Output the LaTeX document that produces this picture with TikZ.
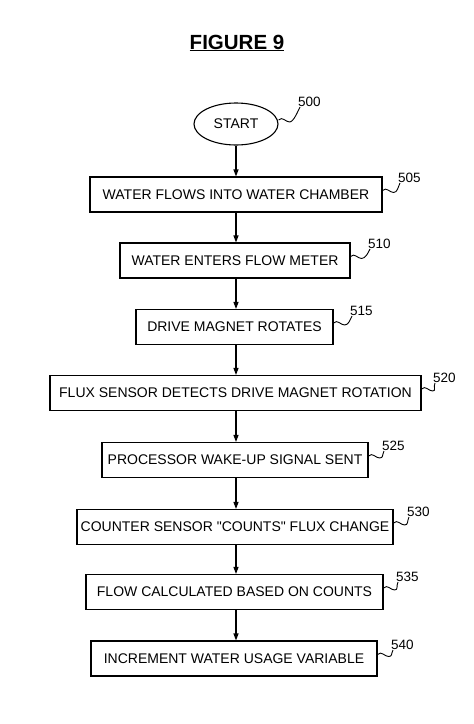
\documentclass[tikz,border=0pt]{standalone}
\usepackage{fontspec}
\setmainfont{Liberation Sans}[Ligatures=TeXOff]
\usetikzlibrary{shapes.geometric,arrows.meta}
\begin{document}
\begin{tikzpicture}[x=1pt,y=-1pt,
  stepbox/.style={draw,line width=1.1pt,minimum height=35pt,inner sep=0pt,font=\fontsize{14}{16}\selectfont},
  ref/.style={anchor=south west,inner sep=0pt,font=\fontsize{13.5}{15}\selectfont},
  flow/.style={-{Triangle[length=7pt,width=5pt]},line width=1.1pt},
  squig/.style={line width=0.9pt}]
\useasboundingbox (0,0) rectangle (474,724);
\node[font=\bfseries\fontsize{20.5}{22}\selectfont] (title) at (237,43) {\underline{FIGURE 9}};
\node[draw,ellipse,line width=1.1pt,minimum width=84pt,minimum height=42pt,inner sep=0pt,font=\fontsize{14}{16}\selectfont] (s) at (236,124) {START};
\node[stepbox,minimum width=292pt] (b505) at (236,194.5) {WATER FLOWS INTO WATER CHAMBER};
\node[stepbox,minimum width=230pt] (b510) at (235,260.5) {WATER ENTERS FLOW METER};
\node[stepbox,minimum width=197pt] (b515) at (234.5,327) {DRIVE MAGNET ROTATES};
\node[stepbox,minimum width=371pt] (b520) at (235.5,393) {FLUX SENSOR DETECTS DRIVE MAGNET ROTATION};
\node[stepbox,minimum width=266pt] (b525) at (235,460) {PROCESSOR WAKE-UP SIGNAL SENT};
\node[stepbox,minimum width=316pt] (b530) at (235,527) {COUNTER SENSOR "COUNTS" FLUX CHANGE};
\node[stepbox,minimum width=297pt] (b535) at (234.5,592) {FLOW CALCULATED BASED ON COUNTS};
\node[stepbox,minimum width=286pt] (b540) at (234,658.5) {INCREMENT WATER USAGE VARIABLE};
\node[ref] (l500) at (298,107) {500};
\node[ref] (l505) at (398,183) {505};
\node[ref] (l510) at (368,249) {510};
\node[ref] (l515) at (350,316) {515};
\node[ref] (l520) at (433,383) {520};
\node[ref] (l525) at (382,451) {525};
\node[ref] (l530) at (407,517) {530};
\node[ref] (l535) at (396,582) {535};
\node[ref] (l540) at (391,650) {540};
\foreach \a/\b in {s/b505,b505/b510,b510/b515,b515/b520,b520/b525,b525/b530,b530/b535,b535/b540}{
  \draw[flow] (s |- \a.south) -- (s |- \b.north);
}
\foreach \b/\l in {s/l500,b505/l505,b510/l510,b515/l515,b520/l520,b525/l525,b530/l530,b535/l535,b540/l540}{
  \draw[squig] ([yshift=4pt]\b.east) .. controls +(4,-4) and +(-4,0) .. ++(11,2) .. controls +(4,0) and +(-2,4) .. ([xshift=2pt]\l.south west);
}
\end{tikzpicture}
\end{document}
